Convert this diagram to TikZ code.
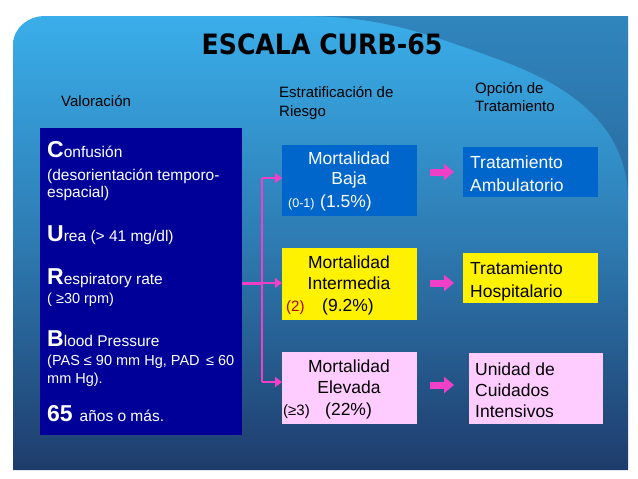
\documentclass[tikz,border=0pt]{standalone}
\usepackage{fontspec}
\setmainfont{Liberation Sans}
\newfontfamily\titlefont{DejaVu Sans Condensed}
\usetikzlibrary{arrows.meta}
\definecolor{navy}{HTML}{000099}
\definecolor{midblue}{HTML}{0066CC}
\definecolor{pinkbox}{HTML}{FFCCFF}
\definecolor{arrpink}{HTML}{F040C8}
\definecolor{bgtop}{HTML}{3AAEEA}
\definecolor{bgbot}{HTML}{1E3C6C}
\newcommand\BigL[1]{{\fontsize{23}{25}\selectfont\bfseries #1}}
\tikzset{
  box/.style={inner sep=0pt, outer sep=0pt},
  txt/.style={anchor=base west, inner sep=0pt, font=\fontsize{15}{17}\selectfont},
  ltxt/.style={anchor=base west, inner sep=0pt, text=white, font=\fontsize{15.5}{17}\selectfont},
  stxt/.style={anchor=base west, inner sep=0pt, text=white, font=\fontsize{14.5}{16}\selectfont},
  ctxt/.style={anchor=base, inner sep=0pt, font=\fontsize{17.5}{19}\selectfont},
  rtxt/.style={anchor=base west, inner sep=0pt, font=\fontsize{17.5}{19}\selectfont},
  flow/.style={draw=arrpink, line width=2.5pt, -{Triangle[length=7pt,width=10pt]}},
  fat/.style={draw=arrpink, line width=7pt, -{Triangle[length=10pt,width=16pt]}},
}
\begin{document}
\begin{tikzpicture}[x=1pt,y=-1pt]
\useasboundingbox (0,0) rectangle (638,479);
\fill[white] (0,0) rectangle (638,479);
\shade[top color=bgtop, bottom color=bgbot, middle color=bgtop!55!bgbot]
  (13,470) -- (13,45) to[out=90,in=180] (45,16) -- (628,16) -- (628,470) -- cycle;
\fill[bgbot, opacity=0.35] (300,16) to[out=0,in=160] (500,60) to[out=-20,in=90] (628,200) -- (628,16) -- cycle;
\node[anchor=center, inner sep=0pt, text=black, font=\titlefont\bfseries\fontsize{28}{30}\selectfont] (title) at (322,44) {ESCALA CURB-65};
\node[txt, text=black] (h1) at (61,106) {Valoración};
\node[txt, text=black] (h2a) at (279,97) {Estratificación de};
\node[txt, text=black] (h2b) at (279,116) {Riesgo};
\node[txt, text=black] (h3a) at (475,93) {Opción de};
\node[txt, text=black] (h3b) at (475,111) {Tratamiento};
% left box
\fill[navy] (40,128) rectangle (242,435);
\coordinate (lefte) at (242,283);
\node[ltxt] (c1) at (47,157) {\BigL{C}onfusión};
\node[ltxt] (c2) at (47,180) {(desorientación temporo-};
\node[ltxt] (c3) at (47,197) {espacial)};
\node[ltxt] (u1) at (47,241) {\BigL{U}rea (> 41 mg/dl)};
\node[ltxt] (r1) at (47,284) {\BigL{R}espiratory rate};
\node[stxt] (r2) at (47,303) {( ≥30 rpm)};
\node[ltxt] (b1) at (47,346) {\BigL{B}lood Pressure};
\node[stxt] (b2) at (47,365) {(PAS ≤ 90 mm Hg, PAD \,≤ 60};
\node[stxt] (b3) at (47,383) {mm Hg).};
\node[ltxt] (s1) at (47,421) {\BigL{65} \,años o más.};
% middle boxes
\node[box, fill=midblue, minimum width=135pt, minimum height=71pt] (baja) at (349.5,180.5) {};
\node[box, fill=yellow, minimum width=135pt, minimum height=72pt] (inter) at (349.5,284) {};
\node[box, fill=pinkbox, minimum width=135pt, minimum height=72pt] (elev) at (349.5,388) {};
\node[ctxt, text=white] (b1t) at (349,164) {Mortalidad};
\node[ctxt, text=white] (b2t) at (349,184) {Baja};
\node[txt, text=white, font=\fontsize{12.5}{14}\selectfont] (b3t) at (288,207) {(0-1)};
\node[txt, text=white, font=\fontsize{17.5}{19}\selectfont] (b4t) at (320,207) {(1.5\%)};
\node[ctxt, text=black] (i1t) at (349,268) {Mortalidad};
\node[ctxt, text=black] (i2t) at (349,289) {Intermedia};
\node[txt, text=red!70!black, font=\fontsize{15}{17}\selectfont] (i3t) at (286,311) {(2)};
\node[txt, text=black, font=\fontsize{17.5}{19}\selectfont] (i4t) at (322,311) {(9.2\%)};
\node[ctxt, text=black] (e1t) at (349,372) {Mortalidad};
\node[ctxt, text=black] (e2t) at (349,393) {Elevada};
\node[txt, text=black, font=\fontsize{15}{17}\selectfont] (e3t) at (283,415) {(≥3)};
\node[txt, text=black, font=\fontsize{17.5}{19}\selectfont] (e4t) at (325,415) {(22\%)};
% right boxes
\node[box, fill=midblue, minimum width=135pt, minimum height=50pt] (amb) at (530.5,172) {};
\node[box, fill=yellow, minimum width=135pt, minimum height=50pt] (hosp) at (530.5,278) {};
\node[box, fill=pinkbox, minimum width=134pt, minimum height=71pt] (uci) at (536,388.5) {};
\node[rtxt, text=white] (a1) at (470,168) {Tratamiento};
\node[rtxt, text=white] (a2) at (470,191) {Ambulatorio};
\node[rtxt, text=black] (h1t) at (470,274) {Tratamiento};
\node[rtxt, text=black] (h2t) at (470,297) {Hospitalario};
\node[rtxt, text=black] (u1t) at (475,375) {Unidad de};
\node[rtxt, text=black] (u2t) at (475,396) {Cuidados};
\node[rtxt, text=black] (u3t) at (475,417) {Intensivos};
% connectors
\coordinate (split) at (262,283);
\coordinate (top) at (262,178);
\coordinate (bot) at (262,382);
\draw[draw=arrpink, line width=3pt] (lefte) -- (split);
\draw[draw=arrpink, line width=2.5pt] (top) -- (bot);
\draw[flow] (top) -- (baja.west |- top);
\draw[flow] (split) -- (inter.west |- split);
\draw[flow] (bot) -- (elev.west |- bot);
\coordinate (m1) at (430,172);
\coordinate (m2) at (430,283);
\coordinate (m3) at (430,385);
\draw[fat] (m1) -- ++(24,0);
\draw[fat] (m2) -- ++(24,0);
\draw[fat] (m3) -- ++(24,0);
\end{tikzpicture}
\end{document}
